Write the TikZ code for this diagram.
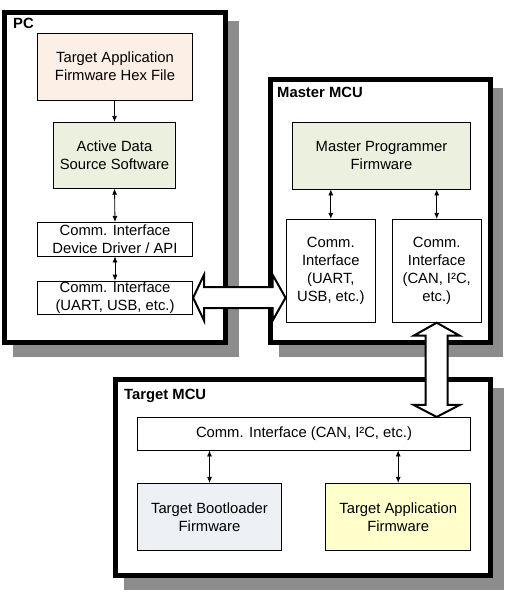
\documentclass[tikz,border=0pt]{standalone}
\usepackage{fontspec}
\setmainfont{Liberation Sans}
\usetikzlibrary{calc,arrows.meta}
\definecolor{peach}{HTML}{FCEFE5}
\definecolor{sage}{HTML}{EBF0DF}
\definecolor{bluegray}{HTML}{EDF0F5}
\definecolor{paleyellow}{HTML}{FFFFCC}
\definecolor{shadowgray}{HTML}{8C8C8C}
\begin{document}
\begin{tikzpicture}[x=1pt,y=-1pt,
  every node/.style={font=\fontsize{14.8}{17.8}\selectfont},
  inbox/.style={draw=black, line width=0.8pt, align=center, inner sep=0pt},
  outerbox/.style={draw=black, line width=4.5pt, fill=white},
  shade/.style={fill=shadowgray},
  boxtitle/.style={font=\fontsize{14.8}{17.8}\selectfont\bfseries, anchor=base west, inner sep=0pt},
  link/.style={line width=0.8pt, {Latex[length=6pt,width=5pt]}-{Latex[length=6pt,width=5pt]}},
  onelink/.style={line width=0.8pt, -{Latex[length=6pt,width=5pt]}},
  bigarrow/.style={draw=black, line width=2pt, fill=white, line join=miter}
]
\useasboundingbox (0,0) rectangle (509,593);

% shadows
\fill[shade] (13.25,21.25) rectangle (238.5,356.5);
\fill[shade] (279.25,88.25) rectangle (503.25,356.5);
\fill[shade] (124.25,388.25) rectangle (503.5,590);

% outer boxes
\draw[outerbox] (4.5,12.5) rectangle (225.5,342.5);
\draw[outerbox] (270.5,79.5) rectangle (490.5,342.5);
\draw[outerbox] (115.5,379.5) rectangle (490.5,575.5);

\node[boxtitle] (tpc) at (13,28.5) {PC};
\node[boxtitle] (tmaster) at (277,97.5) {Master MCU};
\node[boxtitle] (ttarget) at (124,399) {Target MCU};

% PC
\node[inbox, fill=peach, minimum width=155.4, minimum height=67] (hex) at (115,66.5)
  {Target Application\\Firmware Hex File};
\node[inbox, fill=sage, minimum width=122.4, minimum height=66] (ads) at (114.5,155.3)
  {Active Data\\Source Software};
\node[inbox, fill=white, minimum width=155.4, minimum height=33.7] (drv) at (115,239.2)
  {Comm. Interface\\Device Driver / API};
\node[inbox, fill=white, minimum width=155.4, minimum height=33.3] (pccomm) at (115,297.7)
  {Comm. Interface\\(UART, USB, etc.)};

% Master
\node[inbox, fill=sage, minimum width=178.4, minimum height=66.7] (mpf) at (381.5,155.7)
  {Master Programmer\\Firmware};
\node[inbox, fill=white, minimum width=89.7, minimum height=103] (mc1) at (330.8,270.8)
  {Comm.\\Interface\\(UART,\\USB, etc.)};
\node[inbox, fill=white, minimum width=88.7, minimum height=103] (mc2) at (436.7,270.8)
  {Comm.\\Interface\\(CAN, I²C,\\etc.)};

% Target
\node[inbox, fill=white, minimum width=333.4, minimum height=32.7] (tc) at (304,433.7)
  {Comm. Interface (CAN, I²C, etc.)};
\node[inbox, fill=bluegray, minimum width=144.4, minimum height=67.4] (boot) at (209.5,517)
  {Target Bootloader\\Firmware};
\node[inbox, fill=paleyellow, minimum width=145, minimum height=67.4] (app) at (398.2,517)
  {Target Application\\Firmware};

% small connectors
\draw[onelink] (hex.south -| ads.north) -- (ads.north);
\draw[link] (ads.south) -- (drv.north);
\draw[link] (drv.south) -- (pccomm.north);
\draw[link] (mpf.south -| mc1.north) -- (mc1.north);
\draw[link] (mpf.south -| mc2.north) -- (mc2.north);
\draw[link] (tc.south -| boot.north) -- (boot.north);
\draw[link] (tc.south -| app.north) -- (app.north);

% big arrows
\coordinate (A) at (pccomm.east);
\coordinate (B) at (mc1.west |- pccomm.east);
\draw[bigarrow] (A) -- ($(A)+(11,-23)$) -- ($(A)+(11,-10.5)$) -- ($(B)+(-13,-10.5)$)
  -- ($(B)+(-13,-23)$) -- (B) -- ($(B)+(-13,23)$) -- ($(B)+(-13,10.5)$)
  -- ($(A)+(11,10.5)$) -- ($(A)+(11,23)$) -- cycle;
\coordinate (C) at (mc2.south);
\coordinate (D) at (mc2.south |- tc.north);
\draw[bigarrow] (C) -- ($(C)+(23,13)$) -- ($(C)+(11,13)$) -- ($(D)+(11,-12)$)
  -- ($(D)+(23,-12)$) -- (D) -- ($(D)+(-23,-12)$) -- ($(D)+(-11,-12)$)
  -- ($(C)+(-11,13)$) -- ($(C)+(-23,13)$) -- cycle;
\end{tikzpicture}
\end{document}
